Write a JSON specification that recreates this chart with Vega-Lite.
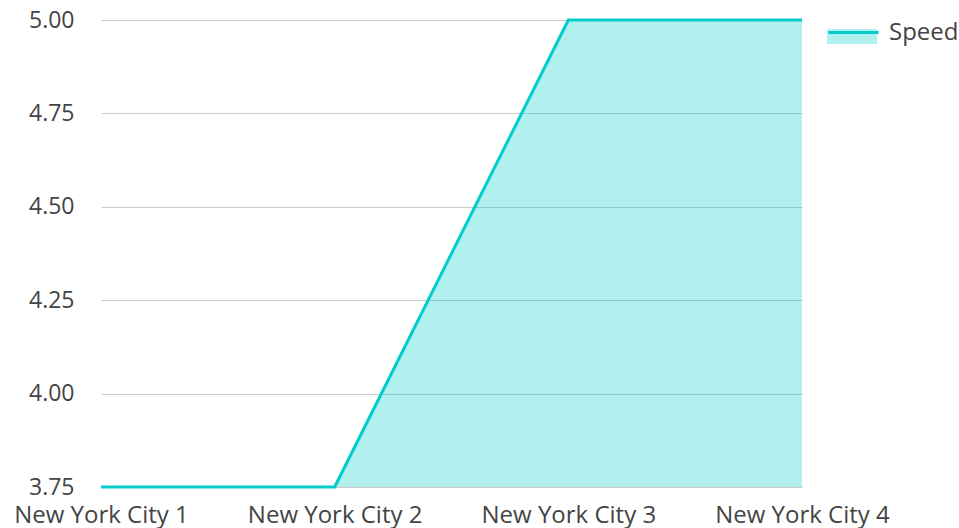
{
  "$schema": "https://vega.github.io/schema/vega-lite/v6.json",
  "width": 701,
  "height": 467,
  "autosize": {"type": "none"},
  "padding": {"left": 101, "top": 20, "right": 157, "bottom": 41},
  "background": "white",
  "config": {
    "view": {"stroke": null},
    "font": "Open Sans",
    "axis": {"labelFont": "Open Sans", "labelFontSize": 23, "labelColor": "#444444", "title": null},
    "legend": {"labelFont": "Open Sans", "labelFontSize": 24, "labelColor": "#444444"}
  },
  "data": {
    "values": [
      {"city": "New York City 1", "speed": 3.75, "series": "Speed"},
      {"city": "New York City 2", "speed": 3.75, "series": "Speed"},
      {"city": "New York City 3", "speed": 5.0, "series": "Speed"},
      {"city": "New York City 4", "speed": 5.0, "series": "Speed"}
    ]
  },
  "encoding": {
    "x": {
      "field": "city",
      "type": "ordinal",
      "sort": null,
      "scale": {"type": "point", "padding": 0},
      "axis": {"labelAngle": 0, "ticks": false, "domain": false, "grid": false, "labelPadding": 16, "labelOverlap": false, "labelFontSize": 24}
    },
    "y": {
      "field": "speed",
      "type": "quantitative",
      "scale": {"domain": [3.75, 5], "nice": false, "zero": false},
      "axis": {"values": [3.75, 4, 4.25, 4.5, 4.75, 5], "format": ".2f", "ticks": false, "domain": false, "grid": true, "gridColor": "#cccccc", "gridWidth": 1, "labelPadding": 27}
    }
  },
  "layer": [
    {
      "mark": {"type": "area", "opacity": 0.3},
      "encoding": {
        "y2": {"datum": 3.75},
        "fill": {
          "datum": "Speed",
          "type": "nominal",
          "scale": {"range": ["#00cccc"]},
          "legend": {
            "title": null,
            "orient": "none",
            "legendX": 726,
            "legendY": -14,
            "symbolType": "M-1,-0.08H1V0.52H-1Z",
            "symbolSize": 2500,
            "symbolStrokeWidth": 0,
            "symbolOpacity": 0.3,
            "labelOffset": 9,
            "labelExpr": "''"
          }
        }
      }
    },
    {
      "mark": {"type": "line", "strokeWidth": 3},
      "encoding": {
        "stroke": {
          "field": "series",
          "type": "nominal",
          "scale": {"range": ["#00cccc"]},
          "legend": {
            "title": null,
            "orient": "none",
            "legendX": 726,
            "legendY": -14,
            "symbolType": "stroke",
            "symbolSize": 2500,
            "symbolStrokeWidth": 3,
            "labelOffset": 9
          }
        }
      }
    }
  ]
}
